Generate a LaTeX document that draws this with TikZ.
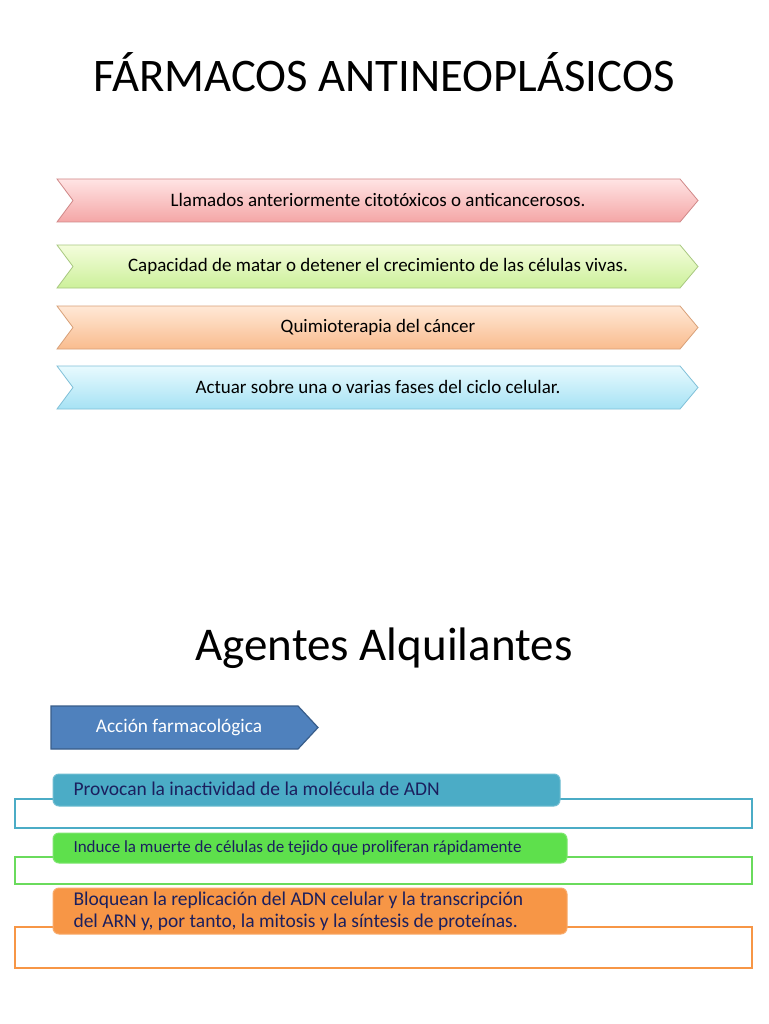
\documentclass[tikz,border=0pt]{standalone}
\usepackage{fontspec}
\setmainfont{Carlito}
\begin{document}
\begin{tikzpicture}[x=1pt,y=-1pt,
  chev/.style={line width=0.8pt},
  tabbox/.style={rounded corners=6pt,line width=1pt},
  outl/.style={line width=1.2pt},
  ctext/.style={font=\fontsize{19}{21}\selectfont,text=black},
  btext/.style={font=\fontsize{19.5}{23}\selectfont,text=navytx,anchor=west,align=left}]
\definecolor{navytx}{HTML}{1B1F5E}
\useasboundingbox (0,0) rectangle (768,1024);
\fill[white] (0,0) rectangle (768,1024);
\node (t1) at (384,72) {\fontsize{46.7}{50}\selectfont FÁRMACOS ANTINEOPLÁSICOS};
% chevrons
\foreach \y/\a/\b/\d/\nm/\txt in {
 179/FFE4E4/F4A6A6/D08888/c1/{Llamados anteriormente citotóxicos o anticancerosos.},
 245/F4FDDC/CCF09A/A8C880/c2/{Capacidad de matar o detener el crecimiento de las células vivas.},
 306/FFE8D6/F9BC8E/D8A078/c3/{Quimioterapia del cáncer},
 366/E8FAFE/A6E2F4/80C0D8/c4/{Actuar sobre una o varias fases del ciclo celular.}}{
  \definecolor{ca}{HTML}{\a}\definecolor{cb}{HTML}{\b}\definecolor{cd}{HTML}{\d}
  \draw[chev,draw=cd,top color=ca,bottom color=cb]
    (57,\y) -- (680,\y) -- (698,\y+21.5) -- (680,\y+43) -- (57,\y+43) -- (73,\y+21.5) -- cycle;
  \node[ctext] (\nm) at (378,\y+21) {\txt};
}
\node (t2) at (384,648) {\fontsize{47}{50}\selectfont Agentes Alquilantes};
\definecolor{accb}{HTML}{4F81BD}\definecolor{accd}{HTML}{385D8A}
\draw[chev,draw=accd,fill=accb,line width=1.2pt] (51,706) -- (298,706) -- (318,727.5) -- (298,749) -- (51,749) -- cycle;
\node[font=\fontsize{19.3}{21}\selectfont,text=white] (acc) at (179,727) {Acción farmacológica};
% boxes
\definecolor{bl}{HTML}{4BACC6}\definecolor{gr}{HTML}{5EE04C}\definecolor{gro}{HTML}{6ADB5C}\definecolor{or}{HTML}{F79646}
\draw[outl,draw=bl] (15,799) rectangle (752,828);
\draw[tabbox,draw=bl!80,fill=bl] (53,774) rectangle (560,806);
\node[btext] (b1) at (70,789) {Provocan la inactividad de la molécula de ADN};
\draw[outl,draw=gro] (15,857) rectangle (752,884);
\draw[tabbox,draw=gr!80,fill=gr] (53,833) rectangle (567,863);
\node[btext,font=\fontsize{17}{20}\selectfont] (b2) at (70,848) {Induce la muerte de células de tejido que proliferan rápidamente};
\draw[outl,draw=or] (15,927) rectangle (752,968);
\draw[tabbox,draw=or!80,fill=or] (53,888) rectangle (567,934);
\node[btext,font=\fontsize{19.5}{22}\selectfont] (b3) at (70,911) {Bloquean la replicación del ADN celular y la transcripción\\del ARN y, por tanto, la mitosis y la síntesis de proteínas.};
\end{tikzpicture}
\end{document}
